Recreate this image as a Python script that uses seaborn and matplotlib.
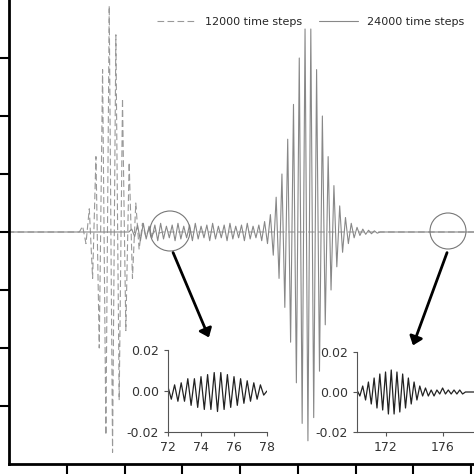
import numpy as np
import pandas as pd
import matplotlib
matplotlib.use("Agg")
import matplotlib.pyplot as plt
import seaborn as sns
from matplotlib.patches import Circle

sns.set_style("white")
plt.rcParams['font.family'] = ['DejaVu Sans']

# peak amplitudes (alternating sign)
p1_start, p1_step = 45.0, 1.15
p1_amp = [0.1, 0.2, 0.4, 0.8, 1.3, 2.0, 2.8, 3.5, 3.9, 3.8, 3.4, 2.9, 2.3, 1.7, 1.2,
          0.8, 0.5, 0.3, 0.15, 0.08, 0.05, 0.04, 0.03, 0.02]
p2_start, p2_step = 62.0, 1.0
p2_amp = [0.05, 0.08, 0.12, 0.15, 0.15, 0.12, 0.1, 0.1, 0.12, 0.15, 0.15, 0.12, 0.1, 0.1,
          0.12, 0.15, 0.15, 0.12, 0.1, 0.1, 0.12, 0.15, 0.15, 0.12, 0.1, 0.1, 0.12, 0.15,
          0.15, 0.12, 0.1, 0.1, 0.12, 0.15, 0.15, 0.12, 0.1, 0.1, 0.12, 0.15, 0.15, 0.12,
          0.1, 0.1, 0.12, 0.15, 0.18, 0.2,
          0.3, 0.4, 0.6, 0.8, 1.0, 1.3, 1.6, 1.9, 2.2, 2.6, 3.0, 3.3, 3.5, 3.6, 3.5, 3.2,
          2.8, 2.4, 2.0, 1.6, 1.3, 1.0, 0.8, 0.6, 0.45, 0.35, 0.25, 0.2, 0.15, 0.1, 0.08,
          0.06, 0.05, 0.04, 0.03, 0.03, 0.02, 0.02]
in1_start, in1_step = 72.0, 0.2
in1_amp = [0.002, 0.004, 0.003, 0.005, 0.004, 0.005, 0.006, 0.007, 0.006, 0.008, 0.007,
           0.009, 0.008, 0.009, 0.009, 0.01, 0.009, 0.009, 0.008, 0.008, 0.007, 0.007,
           0.006, 0.006, 0.005, 0.005, 0.004, 0.004, 0.003, 0.002]
in2_start, in2_step = 170.0, 0.2
in2_amp = [0.001, 0.002, 0.003, 0.004, 0.005, 0.006, 0.007, 0.008, 0.009, 0.009, 0.01,
           0.011, 0.011, 0.011, 0.01, 0.01, 0.009, 0.008, 0.007, 0.006, 0.005, 0.004,
           0.003, 0.002, 0.002, 0.002, 0.001, 0.002, 0.001, 0.001, 0.002, 0.001, 0.001,
           0.001, 0.001, 0.001, 0.001, 0.001, 0.0, 0.0, 0.0]
labels = ["12000 time steps", "24000 time steps"]

def zigzag(start, step, amps):
    x = [start - step] + [start + i * step for i in range(len(amps))] + [start + len(amps) * step]
    y = [0.0] + [a * (1 if i % 2 == 0 else -1) for i, a in enumerate(amps)] + [0.0]
    return pd.DataFrame({"x": x, "y": y})

fig = plt.figure(figsize=(4.74, 4.74), dpi=100)
ax = fig.add_axes([9/474, 10/474, 1 - 9/474, 1 - 10/474])
d1 = zigzag(p1_start, p1_step, p1_amp)
d2 = zigzag(p2_start, p2_step, p2_amp)
d1 = pd.concat([pd.DataFrame({"x": [19.0], "y": [0.0]}), d1, pd.DataFrame({"x": [185.0], "y": [0.0]})])
d2 = pd.concat([pd.DataFrame({"x": [19.0], "y": [0.0]}), d2, pd.DataFrame({"x": [185.0], "y": [0.0]})])
sns.lineplot(data=d1, x="x", y="y", ax=ax, color="#999999", lw=0.8, linestyle=(0, (6, 3)),
             label=labels[0], sort=False)
sns.lineplot(data=d2, x="x", y="y", ax=ax, color="#888888", lw=0.8, label=labels[1], sort=False)
ax.set_xlim(19.5, 180.5)
ax.set_ylim(-4.0, 4.0)
ax.set_xticks(np.arange(39.5, 181, 20))
ax.set_yticks(np.arange(-3, 4, 1))
ax.set_xticklabels([]); ax.set_yticklabels([])
ax.set_xlabel(""); ax.set_ylabel("")
for s in ["top", "right"]:
    ax.spines[s].set_visible(False)
for s in ["left", "bottom"]:
    ax.spines[s].set_linewidth(2); ax.spines[s].set_color("black")
ax.tick_params(direction="out", length=9, width=1.5, left=True, bottom=True, colors="black")
ax.legend(ncol=2, frameon=False, loc="upper right", bbox_to_anchor=(1.0, 0.985),
          fontsize=8, handlelength=3.5, columnspacing=1.5)

for cx, cy, r in [(170, 231, 20), (448, 231, 18)]:
    fig.add_artist(Circle((cx/474, 1 - cy/474), r/474, transform=fig.transFigure,
                          fill=False, ec="#777777", lw=0.8))
for (x0, y0), (x1, y1) in [((172, 250), (210, 340)), ((448, 250), (412, 348))]:
    fig.add_artist(matplotlib.patches.FancyArrowPatch(
        (x0/474, 1 - y0/474), (x1/474, 1 - y1/474), transform=fig.transFigure,
        arrowstyle="-|>,head_length=5,head_width=4", color="black", lw=2))

def inset(rect, df, xlim, xticks):
    a = fig.add_axes(rect)
    sns.lineplot(data=df, x="x", y="y", ax=a, color="#222222", lw=0.9, sort=False)
    a.set_xlim(*xlim); a.set_ylim(-0.02, 0.02)
    a.set_yticks([-0.02, 0.0, 0.02]); a.set_yticklabels(["-0.02", "0.00", "0.02"])
    a.set_xticks(xticks)
    a.set_xlabel(""); a.set_ylabel("")
    a.patch.set_alpha(0)
    for s in ["top", "right"]:
        a.spines[s].set_visible(False)
    for s in ["left", "bottom"]:
        a.spines[s].set_color("#555555"); a.spines[s].set_linewidth(0.8)
    a.tick_params(direction="out", length=3, width=0.8, left=True, bottom=True,
                  labelsize=9, colors="#555555", labelcolor="#333333")
    return a

i1 = zigzag(in1_start, in1_step, in1_amp)
i2 = zigzag(in2_start, in2_step, in2_amp)
inset([168/474, 42/474, 99/474, 82/474], i1, (72, 78), [72, 74, 76, 78])
inset([357/474, 42/474, 117/474, 80/474], i2, (170, 178.2), [172, 176])

fig.savefig("out.png", dpi=100)
